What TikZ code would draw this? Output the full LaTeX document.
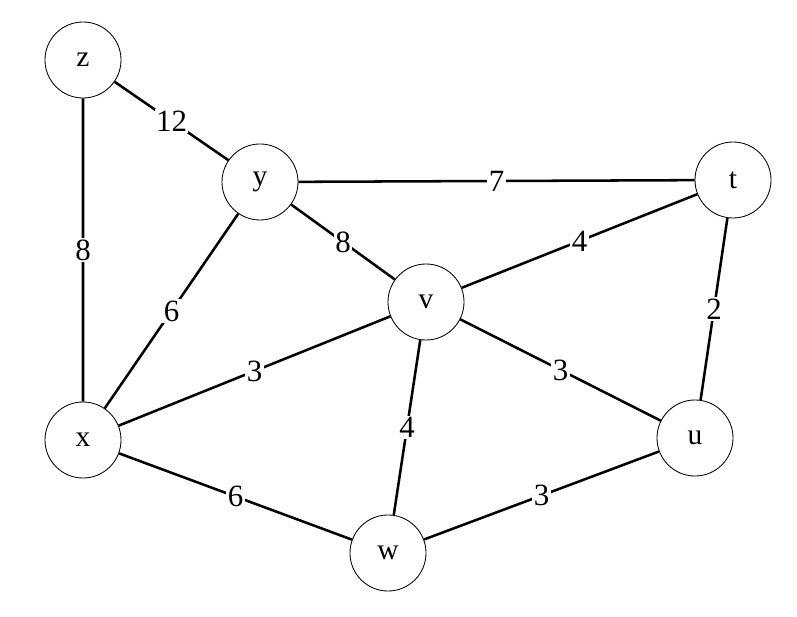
\documentclass[tikz,border=0pt]{standalone}
\usepackage{fontspec}
\setmainfont{Liberation Serif}
\begin{document}
\begin{tikzpicture}[x=0.025cm,y=-0.025cm,line width=1.8pt,
                    main node/.style={circle,draw,line width=0.6pt,fill=white,minimum size=1.9cm,inner sep=0pt,font=\fontsize{21}{24}\selectfont},
                    weight/.style={fill=white,inner sep=1pt,font=\fontsize{22}{25}\selectfont}]
  \useasboundingbox (0,0) rectangle (797,617);

  \node[main node] (z) at (83,60) {z};
  \node[main node] (y) at (260,182) {y};
  \node[main node] (t) at (733,180) {t};
  \node[main node] (v) at (426,302) {v};
  \node[main node] (x) at (83,440) {x};
  \node[main node] (u) at (695,438) {u};
  \node[main node] (w) at (388,553) {w};

  \path[draw]
    (z) -- node[weight] {12} (y)
    (z) -- node[weight] {8} (x)
    (y) -- node[weight] {7} (t)
    (y) -- node[weight] {8} (v)
    (y) -- node[weight] {6} (x)
    (v) -- node[weight] {4} (t)
    (t) -- node[weight] {2} (u)
    (v) -- node[weight] {3} (x)
    (v) -- node[weight] {3} (u)
    (v) -- node[weight] {4} (w)
    (x) -- node[weight] {6} (w)
    (w) -- node[weight] {3} (u);
\end{tikzpicture}
\end{document}
